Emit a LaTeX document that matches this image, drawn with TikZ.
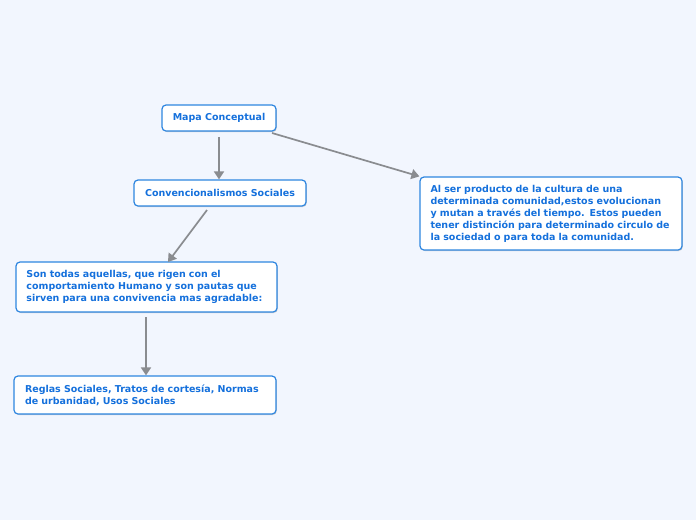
\documentclass[tikz,border=0pt]{standalone}
\usepackage{fontspec}
\setmainfont{DejaVu Sans}
\usetikzlibrary{arrows.meta,shadows}
\definecolor{bg}{HTML}{F2F6FE}
\definecolor{bd}{HTML}{2E86E0}
\definecolor{tx}{HTML}{1470DC}
\definecolor{ar}{HTML}{8A8C90}
\begin{document}
\begin{tikzpicture}[x=1pt,y=-1pt,
 box/.style={draw=bd,line width=1.2pt,fill=white,rounded corners=4pt,
   font=\fontsize{9.5}{12}\selectfont\bfseries,text=tx,
   drop shadow={shadow xshift=0.8pt,shadow yshift=-1pt,opacity=0.35},inner sep=0pt},
 conn/.style={draw=ar,line width=1.7pt,-{Triangle[length=8pt,width=10pt]}}]
\fill[bg] (0,0) rectangle (696,520);
\useasboundingbox (0,0) rectangle (696,520);
\node[box,minimum width=114pt,minimum height=26pt] (m) at (219,118) {Mapa Conceptual};
\node[box,minimum width=172pt,minimum height=26pt] (c) at (220,193) {Convencionalismos Sociales};
\node[box,minimum width=261pt,minimum height=50pt,text width=240pt,align=left] (s) at (146.5,287) {Son todas aquellas, que rigen con el\\comportamiento Humano y son pautas que\\sirven para una convivencia mas agradable:};
\node[box,minimum width=262pt,minimum height=38pt,text width=240pt,align=left] (r) at (145,395) {Reglas Sociales, Tratos de cortesía, Normas\\de urbanidad, Usos Sociales};
\node[box,minimum width=262pt,minimum height=73pt,text width=241pt,align=left] (a) at (551,213.5) {Al ser producto de la cultura de una\\determinada comunidad,estos evolucionan\\y mutan a través del tiempo. Estos pueden\\tener distinción para determinado circulo de\\la sociedad o para toda la comunidad.};
\coordinate (m1) at (219,137); \coordinate (m2) at (272,133);
\coordinate (c1) at (207,210); \coordinate (s1) at (146,317);
\draw[conn] (m1) -- (m1 |- c.north);
\draw[conn] (m2) -- (a.north west);
\draw[conn] (c1) -- (168,262) coordinate (sn);
\draw[conn] (s1) -- (s1 |- r.north);
\end{tikzpicture}
\end{document}
